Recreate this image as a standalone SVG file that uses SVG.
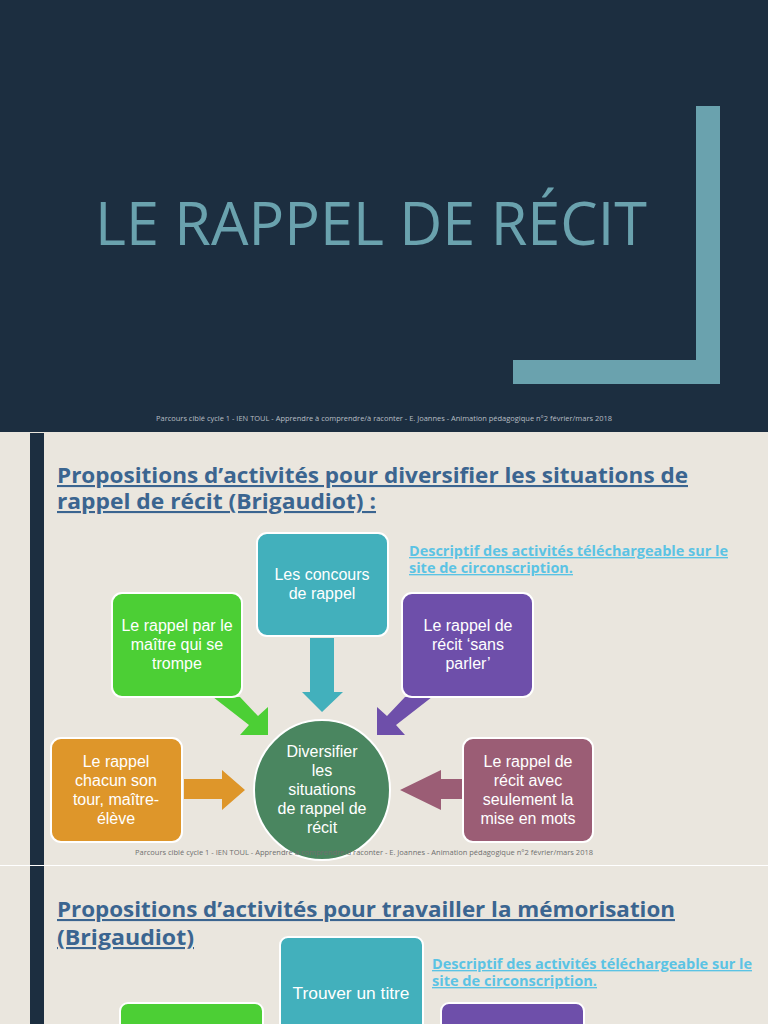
<svg xmlns="http://www.w3.org/2000/svg" width="768" height="1024" viewBox="0 0 768 1024">
<style>
.slide-dark{fill:#1C2E40}
.slide-light{fill:#EAE6DE}
.box{stroke:#FFFFFF;stroke-width:2}
.lbl{font-family:"Liberation Sans",Arial,sans-serif;font-size:16px;fill:#FFFFFF;text-anchor:middle}
.h{font-family:"Open Sans","Noto Sans",sans-serif;font-weight:bold;font-size:21px;fill:#3B6590;text-decoration:underline}
.lnk{font-family:"Open Sans","Noto Sans",sans-serif;font-weight:bold;font-size:13.5px;fill:#5BC3E4;text-decoration:underline}
.foot{font-family:"Open Sans","Noto Sans",sans-serif;font-size:7px;text-anchor:middle}
</style>
<!-- Slide 1 -->
<rect class="slide-dark" x="0" y="0" width="768" height="432"/>
<text x="95" y="245" font-family="Open Sans, Noto Sans, sans-serif" font-size="61" fill="#6AA2AE" textLength="552" lengthAdjust="spacingAndGlyphs">LE RAPPEL DE RÉCIT</text>
<rect x="696" y="106" width="24" height="278" fill="#6AA2AE"/>
<rect x="513" y="360" width="207" height="24" fill="#6AA2AE"/>
<text class="foot" x="384" y="421" fill="#B8BEC4" textLength="456" lengthAdjust="spacingAndGlyphs">Parcours ciblé cycle 1 - IEN TOUL - Apprendre à comprendre/à raconter - E. Joannes - Animation pédagogique n°2 février/mars 2018</text>
<!-- Slide 2 -->
<rect class="slide-light" x="0" y="432" width="768" height="433"/>
<rect class="slide-dark" x="30" y="433" width="14" height="432"/>
<text class="h" x="57" y="483" textLength="631" lengthAdjust="spacingAndGlyphs">Propositions d’activités pour diversifier les situations de</text>
<text class="h" x="57" y="509" textLength="319" lengthAdjust="spacingAndGlyphs">rappel de récit (Brigaudiot) :</text>
<text class="lnk" x="409" y="556" textLength="319" lengthAdjust="spacingAndGlyphs">Descriptif des activités téléchargeable sur le</text>
<text class="lnk" x="409" y="573" textLength="164" lengthAdjust="spacingAndGlyphs">site de circonscription.</text>
<g id="connectors">
  <polygon fill="#42B0BC" points="310,638 334,638 334,692 343,692 322,712 302,692 310,692"/>
  <polygon fill="#4CCF35" points="213,697 240,697 258,716 268,707 268,735 240,735 249,725"/>
  <polygon fill="#6E4FAA" points="432,697 405,697 387,716 377,707 377,735 405,735 396,725"/>
  <polygon fill="#DE962A" points="184,779 222,779 222,770 245,790 222,810 222,799 184,799"/>
  <polygon fill="#9B5D75" points="463,779 441,779 441,770 400,790 441,810 441,799 463,799"/>
</g>
<g id="n-concours">
  <rect class="box" x="257" y="533" width="131" height="103" rx="10" fill="#42B0BC"/>
  <text class="lbl" x="322" y="580">Les concours</text>
  <text class="lbl" x="322" y="599">de rappel</text>
</g>
<g id="n-maitre">
  <rect class="box" x="112" y="593" width="130" height="104" rx="10" fill="#4CCF35"/>
  <text class="lbl" x="177" y="631">Le rappel par le</text>
  <text class="lbl" x="177" y="650">maître qui se</text>
  <text class="lbl" x="177" y="669">trompe</text>
</g>
<g id="n-sansparler">
  <rect class="box" x="402" y="593" width="131" height="104" rx="10" fill="#6E4FAA"/>
  <text class="lbl" x="468" y="631">Le rappel de</text>
  <text class="lbl" x="468" y="650">récit ‘sans</text>
  <text class="lbl" x="468" y="669">parler’</text>
</g>
<g id="n-chacun">
  <rect class="box" x="51" y="738" width="131" height="104" rx="10" fill="#DE962A"/>
  <text class="lbl" x="116" y="767">Le rappel</text>
  <text class="lbl" x="116" y="786">chacun son</text>
  <text class="lbl" x="116" y="805">tour, maître-</text>
  <text class="lbl" x="116" y="824">élève</text>
</g>
<g id="n-mots">
  <rect class="box" x="463" y="738" width="130" height="104" rx="10" fill="#9B5D75"/>
  <text class="lbl" x="528" y="767">Le rappel de</text>
  <text class="lbl" x="528" y="786">récit avec</text>
  <text class="lbl" x="528" y="805">seulement la</text>
  <text class="lbl" x="528" y="824">mise en mots</text>
</g>
<g id="n-center">
  <ellipse class="box" cx="322" cy="790" rx="68" ry="70" fill="#4A8660"/>
  <text class="lbl" x="322" y="757">Diversifier</text>
  <text class="lbl" x="322" y="776">les</text>
  <text class="lbl" x="322" y="795">situations</text>
  <text class="lbl" x="322" y="814">de rappel de</text>
  <text class="lbl" x="322" y="833">récit</text>
</g>
<text class="foot" x="364" y="855" fill="#6F6F6F" textLength="458" lengthAdjust="spacingAndGlyphs">Parcours ciblé cycle 1 - IEN TOUL - Apprendre à comprendre/à raconter - E. Joannes - Animation pédagogique n°2 février/mars 2018</text>
<!-- Slide 3 -->
<rect x="0" y="865" width="768" height="1" fill="#FFFFFF"/>
<rect class="slide-light" x="0" y="866" width="768" height="158"/>
<rect class="slide-dark" x="30" y="866" width="14" height="158"/>
<text class="h" x="57" y="917" textLength="618" lengthAdjust="spacingAndGlyphs">Propositions d’activités pour travailler la mémorisation</text>
<text class="h" x="57" y="945" textLength="137" lengthAdjust="spacingAndGlyphs">(Brigaudiot)</text>
<text class="lnk" x="432" y="969" textLength="320" lengthAdjust="spacingAndGlyphs">Descriptif des activités téléchargeable sur le</text>
<text class="lnk" x="432" y="986" textLength="165" lengthAdjust="spacingAndGlyphs">site de circonscription.</text>
<g id="n-titre">
  <rect class="box" x="280" y="937" width="143" height="110" rx="8" fill="#42B0BC"/>
  <text class="lbl" x="351" y="999" textLength="117" lengthAdjust="spacingAndGlyphs">Trouver un titre</text>
</g>
<g id="n3-green">
  <rect class="box" x="120" y="1003" width="143" height="60" rx="8" fill="#4CCF35"/>
</g>
<g id="n3-purple">
  <rect class="box" x="441" y="1003" width="143" height="60" rx="8" fill="#6E4FAA"/>
</g>
</svg>
